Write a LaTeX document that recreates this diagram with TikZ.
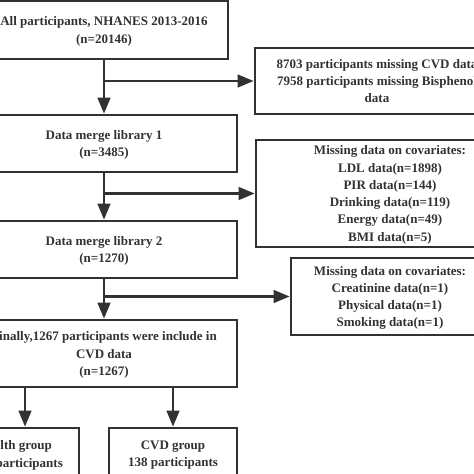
\documentclass[tikz,border=0pt]{standalone}
\usepackage{fontspec}
\setmainfont{Liberation Serif}
\usetikzlibrary{arrows.meta,positioning,calc}
\definecolor{flowInk}{RGB}{50,50,50}
\tikzset{
  flowbox/.style={draw=flowInk, line width=2.6pt, text=flowInk, align=center,
    inner sep=0pt, font=\fontsize{13}{17.3}\selectfont\bfseries, text depth=-8pt},
  flowarr/.style={-{Triangle[length=16pt,width=12.5pt]}, line width=2.6pt, flowInk},
}

\begin{document}
\begin{tikzpicture}[x=1pt,y=-1pt]
    % page frame, the chart is cut off on both sides
    \useasboundingbox (0,0) rectangle (474,474);
    \clip (0,0) rectangle (474,474);
    % main column
    \node[flowbox, minimum width=248pt, minimum height=58pt] (all) at (104,30)
      {All participants, NHANES 2013-2016\\(n=20146)};
    \node[flowbox, minimum width=266pt, minimum height=57pt] (lib1) at (104,143.5)
      {Data merge library 1\\(n=3485)};
    \node[flowbox, minimum width=266pt, minimum height=57pt] (lib2) at (104,249.5)
      {Data merge library 2\\(n=1270)};
    \node[flowbox, minimum width=266pt, minimum height=67pt] (final) at (104,353.5)
      {Finally,1267 participants were include in\\CVD data\\(n=1267)};
    % the two groups
    \node[flowbox, minimum width=128pt, minimum height=52pt] (health) at (15,454)
      {Health group\\1129 participants};
    \node[flowbox, minimum width=128pt, minimum height=52pt] (cvd) at (173,454)
      {CVD group\\138 participants};
    % exclusions on the right
    \node[flowbox, minimum width=244pt, minimum height=66pt] (miss1) at (377,81)
      {8703 participants missing CVD data\\7958 participants missing Bisphenol\\data};
    \node[flowbox, minimum width=268pt, minimum height=107pt] (miss2) at (390,193.5)
      {Missing data on covariates:\\LDL data(n=1898)\\PIR data(n=144)\\
       Drinking data(n=119)\\Energy data(n=49)\\BMI data(n=5)};
    \node[flowbox, minimum width=198pt, minimum height=77pt] (miss3) at (390,296.5)
      {Missing data on covariates:\\Creatinine data(n=1)\\Physical data(n=1)\\
       Smoking data(n=1)};
    % arrows down the column
    \draw[flowarr] (all.south) -- (lib1.north);
    \draw[flowarr] (lib1.south) -- (lib2.north);
    \draw[flowarr] (lib2.south) -- (final.north);
    \draw[flowarr] ([xshift=10pt]health.north |- final.south) -- ([xshift=10pt]health.north);
    \draw[flowarr] (cvd.north |- final.south) -- (cvd.north);
    % side branches
    \draw[flowarr] (all.south |- miss1.west) -- (miss1.west);
    \draw[flowarr] (lib1.south |- miss2.west) -- (miss2.west);
    \draw[flowarr] (lib2.south |- miss3.west) -- (miss3.west);
\end{tikzpicture}
\end{document}
